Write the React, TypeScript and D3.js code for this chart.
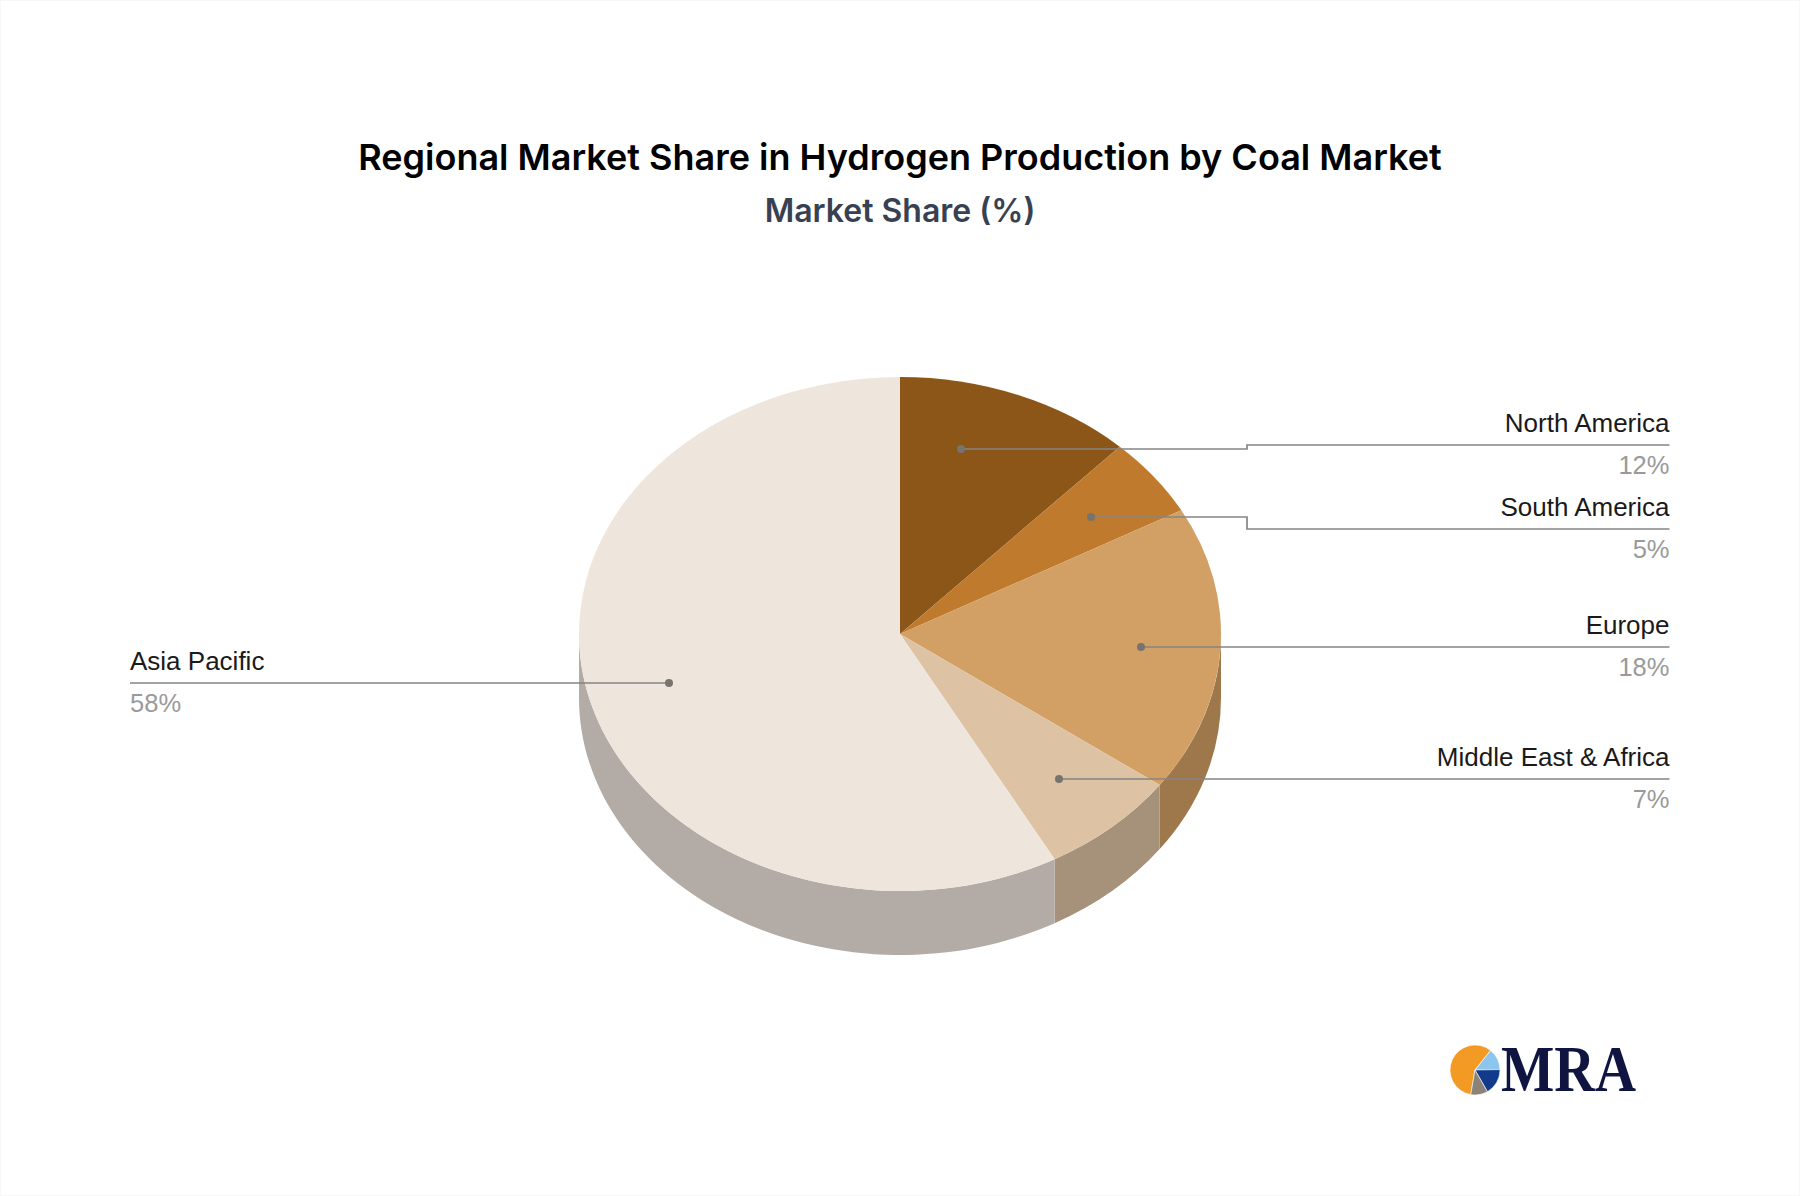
import * as d3 from 'd3';

const regions = ['North America', 'South America', 'Europe', 'Middle East & Africa', 'Asia Pacific'];
const shares = [12, 5, 18, 7, 58];
const sliceColors = ['#8b5617', '#bf7a2d', '#d2a064', '#ddc3a4', '#eee5dd'];

// leader lines, in page pixels: dot, optional elbow, then the label rule
const leaders = [
  { side: 'right', dot: [961, 449], elbowX: 1247, ruleY: 445 },
  { side: 'right', dot: [1091, 517], elbowX: 1247, ruleY: 529 },
  { side: 'right', dot: [1141, 647], elbowX: 1247, ruleY: 647 },
  { side: 'right', dot: [1059, 779], elbowX: 1247, ruleY: 779 },
  { side: 'left', dot: [669, 683], elbowX: 400, ruleY: 683 },
];

const logoShares = [58, 14, 17, 11];
const logoColors = ['#f39a25', '#8cc6ee', '#123a8c', '#8b8378'];

const width = 1800;
const height = 1196;
const cx = 900;
const cy = 634;
const rx = 321;
const ry = 257;
const depth = 64;
const labelRight = 1669.5;
const labelLeft = 130;

const pie = d3.pie<number>().sort(null).value(d => d);
const slices = pie(shares);
const arc = d3.arc<d3.PieArcDatum<number>>().innerRadius(0).outerRadius(rx);

const px = (a: number) => cx + rx * Math.sin(a);
const py = (a: number) => cy - ry * Math.cos(a);

// side wall of a slice: only the part of its rim that faces the viewer
const wallPath = (s: d3.PieArcDatum<number>) => {
  const a0 = Math.max(s.startAngle, Math.PI / 2);
  const a1 = Math.min(s.endAngle, (3 * Math.PI) / 2);
  if (a1 <= a0) return null;
  return [
    `M${px(a0)},${py(a0)}`,
    `A${rx},${ry} 0 0 1 ${px(a1)},${py(a1)}`,
    `L${px(a1)},${py(a1) + depth}`,
    `A${rx},${ry} 0 0 0 ${px(a0)},${py(a0) + depth}`,
    'Z',
  ].join(' ');
};

const darken = (c: string) => {
  const r = d3.rgb(c);
  return d3.rgb(r.r * 0.75, r.g * 0.75, r.b * 0.75).formatHex();
};

const logoSlices = d3.pie<number>().sort(null).value(d => d).startAngle(-2.97).endAngle(-2.97 + 2 * Math.PI)(logoShares);
const logoArc = d3.arc<d3.PieArcDatum<number>>().innerRadius(0).outerRadius(25);

const labelFont = '"Liberation Sans", Arial, sans-serif';

export default function App() {
  return (
    <svg width={width} height={height} viewBox={`0 0 ${width} ${height}`} style={{ position: 'absolute', left: 0, top: 0, background: '#fff' }}>
      <rect x={0.5} y={0.5} width={width - 1} height={height - 1} fill="none" stroke="#f7f7f7" />
      <text x={900} y={170} textAnchor="middle" fontFamily="Inter, sans-serif" fontWeight={600} fontSize={36} fill="#000">
        Regional Market Share in Hydrogen Production by Coal Market
      </text>
      <text x={900} y={222} textAnchor="middle" fontFamily="Inter, sans-serif" fontWeight={600} fontSize={32} fill="#374151">
        Market Share (%)
      </text>

      {slices.map((s, i) => {
        const d = wallPath(s);
        return d ? <path key={i} d={d} fill={darken(sliceColors[i])} /> : null;
      })}
      <g transform={`translate(${cx},${cy}) scale(1,${ry / rx})`}>
        {slices.map((s, i) => (
          <path key={i} d={arc(s) ?? ''} fill={sliceColors[i]} />
        ))}
      </g>

      {leaders.map((l, i) => {
        const right = l.side === 'right';
        const end = right ? labelRight : labelLeft;
        const pts = [l.dot, [l.elbowX, l.dot[1]], [l.elbowX, l.ruleY], [end, l.ruleY]] as [number, number][];
        const anchor = right ? 'end' : 'start';
        return (
          <g key={regions[i]}>
            <path d={d3.line()(pts) ?? ''} fill="none" stroke="#858585" strokeWidth={1.7} />
            <circle cx={l.dot[0]} cy={l.dot[1]} r={4} fill="#77736f" />
            <text x={end} y={l.ruleY - 13} textAnchor={anchor} fontFamily={labelFont} fontSize={26} fill="#1a1a1a">
              {regions[i]}
            </text>
            <text x={end} y={l.ruleY + 29} textAnchor={anchor} fontFamily={labelFont} fontSize={25.5} fill="#9a9a9a">
              {shares[i]}%
            </text>
          </g>
        );
      })}

      <g transform="translate(1475,1070)">
        {logoSlices.map((s, i) => (
          <path key={i} d={logoArc(s) ?? ''} fill={logoColors[i]} stroke="#fff" strokeWidth={0.6} />
        ))}
      </g>
      <text x={1501} y={1091} fontFamily='"Liberation Serif", serif' fontWeight={700} fontSize={66} fill="#0f1440" textLength={135} lengthAdjust="spacingAndGlyphs">
        MRA
      </text>
    </svg>
  );
}
